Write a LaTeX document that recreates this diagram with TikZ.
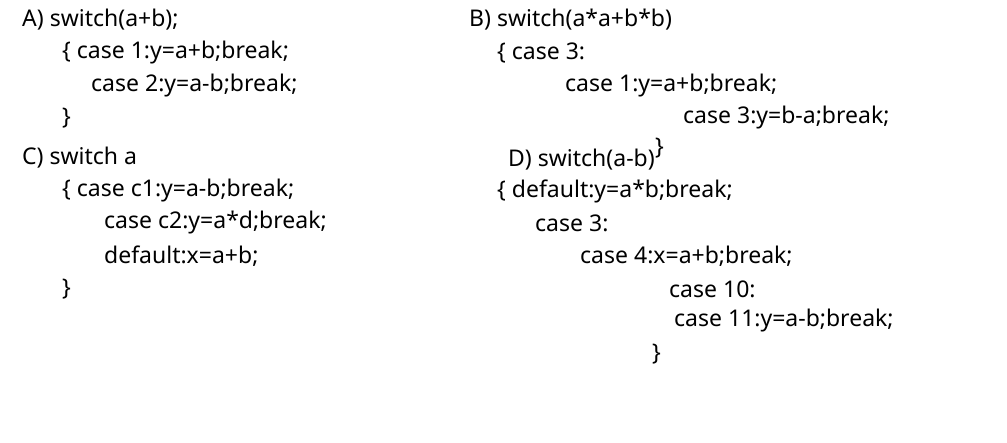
\documentclass[tikz,border=0pt]{standalone}
\usepackage{fontspec}
\setmainfont{Noto Sans}
\begin{document}
\begin{tikzpicture}[x=1pt,y=-1pt,t/.style={anchor=west,inner sep=0pt,font=\fontsize{23}{28}\selectfont}]
\useasboundingbox[fill=white] (0,0) rectangle (1007,443);
\node[t] (a0) at (22,20) {A) switch(a+b);};
\node[t] (a1) at (62,53) {\{ case 1:y=a+b;break;};
\node[t] (a2) at (91,86) {case 2:y=a-b;break;};
\node[t] (a3) at (62,118) {\}};
\node[t] (c0) at (22,158) {C) switch a};
\node[t] (c1) at (62,191) {\{ case c1:y=a-b;break;};
\node[t] (c2) at (104,223) {case c2:y=a*d;break;};
\node[t] (c3) at (104,256) {default:x=a+b;};
\node[t] (c4) at (62,289) {\}};
\node[t] (b0) at (469,20) {B) switch(a*a+b*b)};
\node[t] (b1) at (497,53) {\{ case 3:};
\node[t] (b2) at (565,86) {case 1:y=a+b;break;};
\node[t] (b3) at (683,118) {case 3:y=b-a;break;};
\node[t] (b4) at (655,148) {\}};
\node[t] (d0) at (508,160) {D) switch(a-b)};
\node[t] (d1) at (497,191) {\{ default:y=a*b;break;};
\node[t] (d2) at (535,223) {case 3:};
\node[t] (d3) at (580,256) {case 4:x=a+b;break;};
\node[t] (d4) at (669,289) {case 10:};
\node[t] (d5) at (674,321) {case 11:y=a-b;break;};
\node[t] (d6) at (652,354) {\}};
\end{tikzpicture}
\end{document}
